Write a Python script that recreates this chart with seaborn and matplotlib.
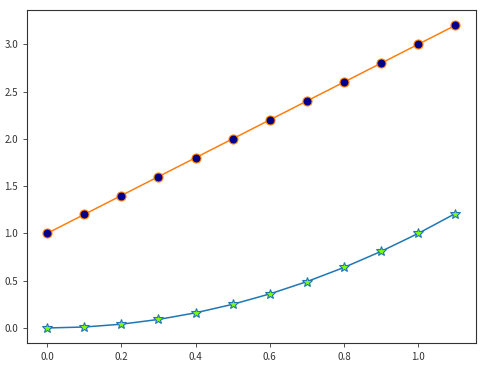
import matplotlib
matplotlib.use("Agg")
import matplotlib.pyplot as plt
import seaborn as sns
import pandas as pd

x = [0.0, 0.1, 0.2, 0.3, 0.4, 0.5, 0.6, 0.7, 0.8, 0.9, 1.0, 1.1]
y_square = [0.0, 0.01, 0.04, 0.09, 0.16, 0.25, 0.36, 0.49, 0.64, 0.81, 1.0, 1.21]
y_linear = [1.0, 1.2, 1.4, 1.6, 1.8, 2.0, 2.2, 2.4, 2.6, 2.8, 3.0, 3.2]

plt.rcParams['font.family'] = ['Noto Sans CJK SC', 'DejaVu Sans']
plt.rcParams['axes.unicode_minus'] = False

df1 = pd.DataFrame({"x": x, "y": y_square})
df2 = pd.DataFrame({"x": x, "y": y_linear})

fig = plt.figure(figsize=(4.84, 3.65), dpi=100)
ax = fig.add_axes([0.055, 0.060, 0.928, 0.912])

sns.lineplot(data=df1, x="x", y="y", ax=ax, color="#1f77b4", linewidth=1.1,
             marker="*", markersize=7.5, markerfacecolor="#7cfc00",
             markeredgecolor="#1f77b4", markeredgewidth=0.8)
sns.lineplot(data=df2, x="x", y="y", ax=ax, color="#ff7f0e", linewidth=1.1,
             marker="o", markersize=6.5, markerfacecolor="#00008b",
             markeredgecolor="#ff7f0e", markeredgewidth=0.8)

ax.set_xlabel("")
ax.set_ylabel("")
ax.set_xticks([0.0, 0.2, 0.4, 0.6, 0.8, 1.0])
ax.set_yticks([0.0, 0.5, 1.0, 1.5, 2.0, 2.5, 3.0])
ax.tick_params(labelsize=7, length=2.6, width=0.6, colors="#333333")
for s in ax.spines.values():
    s.set_linewidth(0.8)
    s.set_color("#333333")

fig.savefig("out.png", dpi=100)
